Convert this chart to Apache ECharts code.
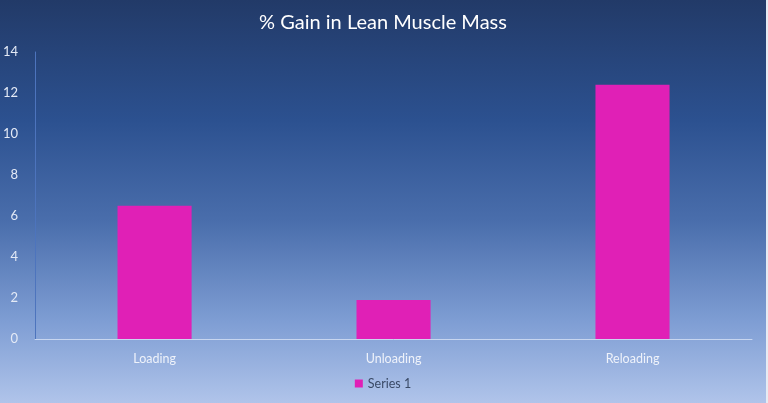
<!DOCTYPE html>
<html>
<head>
<meta charset="utf-8">
<script src="https://cdn.jsdelivr.net/npm/echarts@6/dist/echarts.min.js"></script>
<style>
html,body{margin:0;padding:0;background:#e6ebf3;}
#chart{width:766px;height:403px;}
</style>
</head>
<body>
<div id="chart"></div>
<script>
const categories = ['Loading', 'Unloading', 'Reloading'];
const series1 = [6.5, 1.9, 12.4];
const seriesName = 'Series 1';
const titleText = '% Gain in Lean Muscle Mass';

const chart = echarts.init(document.getElementById('chart'));
chart.setOption({
  backgroundColor: {
    type: 'linear', x: 0, y: 0, x2: 0, y2: 1,
    colorStops: [
      {offset: 0, color: '#223a68'},
      {offset: 0.3, color: '#2c5190'},
      {offset: 0.55, color: '#4a6eac'},
      {offset: 0.8, color: '#7f9ed4'},
      {offset: 1, color: '#b0c4ea'}
    ]
  },
  textStyle: {fontFamily: 'Lato, "Open Sans", sans-serif'},
  title: {
    text: titleText,
    left: 'center',
    top: 8,
    textStyle: {color: '#ffffff', fontSize: 20, fontWeight: 'normal', fontFamily: 'Lato, "Open Sans", sans-serif'}
  },
  legend: {
    data: [seriesName],
    bottom: 8,
    left: 'center',
    itemWidth: 8,
    itemHeight: 8,
    itemGap: 4,
    icon: 'rect',
    textStyle: {color: '#3a4a66', fontSize: 12.5, fontFamily: 'Lato, sans-serif'}
  },
  grid: {left: 35, right: 14, top: 52, bottom: 64, containLabel: false},
  xAxis: {
    type: 'category',
    data: categories,
    axisLine: {lineStyle: {color: '#c8d6f0', width: 1}},
    axisTick: {show: false},
    axisLabel: {color: '#eef2fa', fontSize: 12.5, margin: 13}
  },
  yAxis: {
    type: 'value',
    min: 0, max: 14, interval: 2,
    axisLine: {show: true, lineStyle: {color: '#4d74bd', width: 1}},
    axisTick: {show: false},
    splitLine: {show: false},
    axisLabel: {color: '#e4eaf6', fontSize: 13, margin: 17}
  },
  series: [{
    name: seriesName,
    type: 'bar',
    data: series1,
    barWidth: '31%',
    itemStyle: {color: '#e020b6'}
  }]
});
</script>
</body>
</html>
